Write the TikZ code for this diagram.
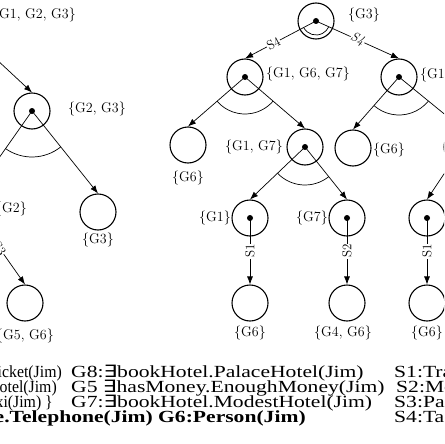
\documentclass[tikz,border=0pt]{standalone}
\usepackage{fontspec}
\newfontfamily\tnr{Liberation Serif}
\newfontfamily\djv{DejaVu Sans}
\usetikzlibrary{arrows.meta,calc}
\newcommand\andarc[4]{%
  \draw[arcl] let \p1=($(#2.north)-(#1.center)$), \p2=($(#3.north)-(#1.center)$),
    \n1={atan2(\y1,\x1)}, \n2={atan2(\y2,\x2)} in
    ($(#1.center)+(\n1:#4)$) arc[start angle=\n1, end angle=\n2, radius=#4];}
\newcommand\ex{{\djv ∃}}
\begin{document}
\begin{tikzpicture}[x=1pt,y=-1pt,
  nd/.style={circle,draw,line width=1.1pt,minimum size=36pt,inner sep=0pt},
  ndot/.style={nd,path picture={\fill (path picture bounding box.center) circle (3pt);}},
  edge/.style={line width=0.7pt,-{Latex[length=8pt,width=6pt]}},
  arcl/.style={line width=0.7pt},
  lbl/.style={font=\fontsize{14}{16}\selectfont,inner sep=0pt},
  slbl/.style={font=\fontsize{13}{14}\selectfont,fill=white,inner sep=0.6pt},
  btxt/.style={font=\tnr\fontsize{17}{17}\selectfont,inner sep=0pt}]
\useasboundingbox (0,0) rectangle (444,444);
\fill[white] (0,0) rectangle (444,444);
\clip (0,0) rectangle (444,444);
% nodes
\coordinate (P0) at (-48,18);
\node[ndot] (T) at (316,21) {};
\node[ndot] (A) at (245,77) {};
\node[ndot] (B) at (399,77) {};
\node[ndot] (L) at (32,111) {};
\node[ndot] (Ll) at (-26,212) {};
\node[nd] (G3n) at (98,212) {};
\node[nd] (BL) at (25,303) {};
\node[nd] (AL) at (188,145) {};
\node[ndot] (C) at (305,147) {};
\node[nd] (D) at (353,148) {};
\node[ndot] (BR) at (462,147) {};
\node[ndot] (E) at (250,218) {};
\node[ndot] (F) at (347,218) {};
\node[ndot] (Gn) at (427,218) {};
\node[nd] (L1) at (250,303) {};
\node[nd] (L2) at (347,303) {};
\node[nd] (L3) at (427,303) {};
% labels
\node[lbl,anchor=east] (tP0) at (76,15) {\{G1, G2, G3\}};
\node[lbl] (tT) at (364,15) {\{G3\}};
\node[lbl,anchor=west] (tA) at (266,74) {\{G1, G6, G7\}};
\node[lbl,anchor=west] (tB) at (420,75) {\{G1, G6\}};
\node[lbl,anchor=west] (tL) at (68,109) {\{G2, G3\}};
\node[lbl,anchor=west] (tLl) at (-5,209) {\{G2\}};
\node[lbl] (tG3) at (98,240) {\{G3\}};
\node[lbl] (tBL) at (25,336) {\{G5, G6\}};
\node[lbl] (tAL) at (188,178) {\{G6\}};
\node[lbl,anchor=east] (tC) at (283,147) {\{G1, G7\}};
\node[lbl,anchor=west] (tD) at (373,150) {\{G6\}};
\node[lbl,anchor=east] (tE) at (231,218) {\{G1\}};
\node[lbl,anchor=east] (tF) at (328,218) {\{G7\}};
\node[lbl] (tL1) at (250,333) {\{G6\}};
\node[lbl] (tL2) at (343,333) {\{G4, G6\}};
\node[lbl] (tL3) at (427,333) {\{G6\}};
% edges
\draw[edge] (P0) -- (L.north);
\draw[edge] (T.center) -- node[slbl,sloped,pos=0.6] (s4a) {S4} (A.north);
\draw[edge] (T.center) -- node[slbl,sloped,pos=0.5] (s4b) {\itshape S4} (B.north);
\draw[edge] (L.center) -- (Ll.north);
\draw[edge] (L.center) -- (G3n.north);
\draw[edge] (Ll.center) -- node[slbl,sloped,pos=0.5] (s3) {S3} (BL.north);
\draw[edge] (A.center) -- (AL.north);
\draw[edge] (A.center) -- (C.north);
\draw[edge] (B.center) -- (D.north);
\draw[edge] (B.center) -- (BR.north);
\draw[edge] (C.center) -- (E.north);
\draw[edge] (C.center) -- (F.north);
\draw[edge] (BR.center) -- (Gn.north);
\draw[edge] (E.center) -- node[slbl,rotate=90,pos=0.5] (s1a) {S1} (L1.north);
\draw[edge] (F.center) -- node[slbl,rotate=90,pos=0.5] (s2) {S2} (L2.north);
\draw[edge] (Gn.center) -- node[slbl,rotate=90,pos=0.5] (s1b) {S1} (L3.north);
% and-arcs
\andarc{T}{A}{B}{14pt}
\andarc{L}{Ll}{G3n}{46pt}
\andarc{A}{AL}{C}{37pt}
\andarc{B}{D}{BR}{38pt}
\andarc{C}{E}{F}{38pt}
% bottom text
\node[btxt,anchor=base east] (c1a) at (62,377) {\scalebox{0.93}[1]{Ticket(Jim)}};
\node[btxt,anchor=base east] (c1b) at (57,392) {\scalebox{0.93}[1]{Hotel(Jim)}};
\node[btxt,anchor=base east] (c1c) at (53,407) {\scalebox{0.93}[1]{Taxi(Jim) \}}};
\node[btxt,anchor=base east] (c1d) at (153,422) {\scalebox{1.27}[1]{\bfseries Phone.Telephone(Jim)}};
\node[btxt,anchor=base west] (c2a) at (71,377) {\scalebox{1.27}[1]{G8:\ex bookHotel.PalaceHotel(Jim)}};
\node[btxt,anchor=base west] (c2b) at (71,392) {\scalebox{1.27}[1]{G5 \ex hasMoney.EnoughMoney(Jim)}};
\node[btxt,anchor=base west] (c2c) at (71,407) {\scalebox{1.27}[1]{G7:\ex bookHotel.ModestHotel(Jim)}};
\node[btxt,anchor=base west] (c2d) at (158,422) {\scalebox{1.27}[1]{\bfseries G6:Person(Jim)}};
\node[btxt,anchor=base west] (c3a) at (394,377) {\scalebox{1.27}[1]{S1:Tra}};
\node[btxt,anchor=base west] (c3b) at (396,392) {\scalebox{1.27}[1]{S2:Mo}};
\node[btxt,anchor=base west] (c3c) at (394,407) {\scalebox{1.27}[1]{S3:Pa}};
\node[btxt,anchor=base west] (c3d) at (394,422) {\scalebox{1.27}[1]{S4:Ta}};
\end{tikzpicture}
\end{document}
